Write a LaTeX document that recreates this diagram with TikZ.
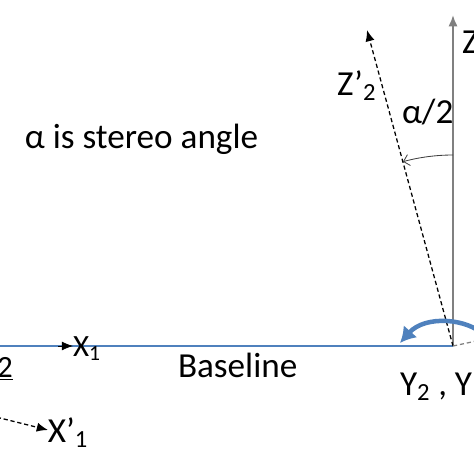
\documentclass[tikz,border=0pt]{standalone}
\usepackage{fontspec}
\setmainfont{Carlito}
\usetikzlibrary{arrows,arrows.meta}

\definecolor{baseblue}{RGB}{79,129,189}
\definecolor{axisgray}{RGB}{128,128,128}

\begin{document}
\begin{tikzpicture}[x=0.025cm, y=-0.025cm, >={Latex[length=8pt,width=6.5pt]}, semithick]

  \tikzstyle{every node}=[inner sep=0pt, outer sep=0pt, anchor=base west, font=\fontsize{25}{30}\selectfont]
  \tikzstyle{small}=[font=\fontsize{22}{26}\selectfont]
  \tikzstyle{axis}=[draw=axisgray, line width=1.4pt]
  \tikzstyle{rotated}=[dash pattern=on 3pt off 2pt, line width=0.9pt]

  \useasboundingbox (0,0) rectangle (474,474);
  \clip (0,0) rectangle (474,474);

  % points on the baseline
  \coordinate (o)   at (453,346);
  \coordinate (bl)  at (-10,346);
  \coordinate (x1s) at (58,346);
  \coordinate (x1)  at (73,346);
  % axis ends
  \coordinate (z)   at (453,15);
  \coordinate (zp)  at (367,30);
  \coordinate (yp)  at (495,337);
  \coordinate (xps) at (-10,415.5);
  \coordinate (xp)  at (48,430);
  \coordinate (zarc) at (453,155);
  \coordinate (bs)  at (485,336);
  \coordinate (be)  at (400,343);

  \draw[draw=baseblue, line width=2pt] (bl) -- (o);
  \draw[->] (x1s) -- (x1);
  \draw[axis, ->] (o) -- (z);
  \draw[rotated, ->] (o) -- (zp);
  \draw[rotated, draw=axisgray] (o) -- (yp);
  \draw[rotated, ->] (xps) -- (xp);
  \draw[-{Straight Barb[length=4pt,width=8pt]}, draw=black!75, line width=0.6pt] (zarc) arc[start angle=-90, end angle=-105.2, radius=191];
  \draw[draw=baseblue, line width=3.2pt, -{Latex[length=11pt,width=13pt]}] (bs) .. controls (468,318) and (425,315) .. (be);

  \node (angle) at (25,148) {α is stereo angle};
  \node (half) at (402,123) {α/2};
  \node (zlab) at (462,53) {Z};
  \node (zplab) at (337,95) {Z’\textsubscript{2}};
  \node[small] (x1lab) at (73,356) {X\textsubscript{1}};
  \node[small] (x2lab) at (-3,377) {\underline{2}};
  \node (base) at (178,377) {Baseline};
  \node (ylab) at (400,395) {Y\textsubscript{2} , Y};
  \node (xplab) at (48,442) {X’\textsubscript{1}};

\end{tikzpicture}
\end{document}
